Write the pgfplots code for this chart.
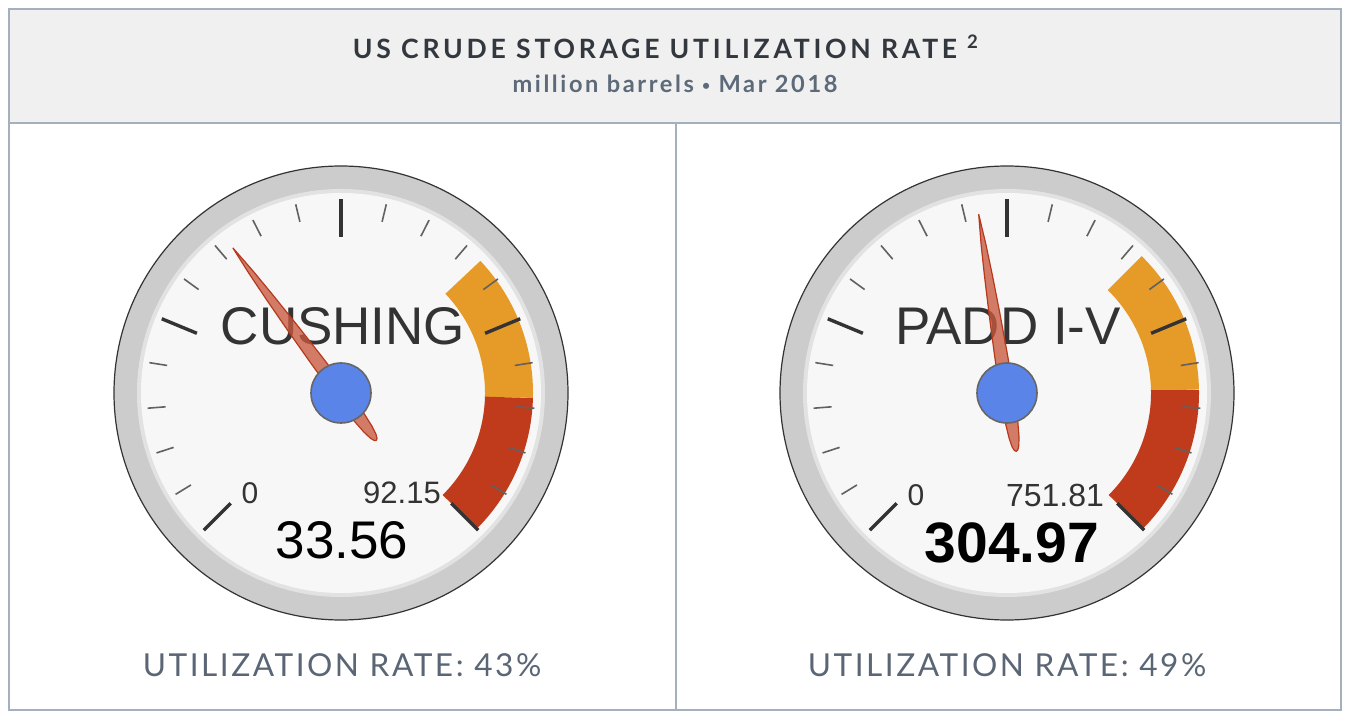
\documentclass[border=0pt]{standalone}
\usepackage{pgfplots}
\pgfplotsset{compat=1.18}
\usepackage{pgfplotstable}
\usepackage{fontspec}
\setmainfont{Liberation Sans}
\newfontfamily\latoT[LetterSpace=14]{Lato}
\newfontfamily\latoS[LetterSpace=11]{Lato}
\newfontfamily\latoB[LetterSpace=8]{Lato}

\definecolor{framec}{HTML}{A4B0BD}
\definecolor{headerc}{HTML}{F0F0F0}
\definecolor{titlec}{HTML}{33383E}
\definecolor{subc}{HTML}{5D6A79}
\definecolor{botc}{HTML}{5A6675}
\definecolor{ringc}{HTML}{CCCCCC}
\definecolor{facec}{HTML}{F7F7F7}
\definecolor{hlc}{HTML}{E2E2E2}
\definecolor{bandY}{HTML}{E69A27}
\definecolor{bandR}{HTML}{BF3B1C}
\definecolor{needleF}{HTML}{C85A40}
\definecolor{needleD}{HTML}{B8381C}
\definecolor{hubc}{HTML}{5B84E8}

% needle outline in its own frame (u along the needle, w across), pixels
\pgfplotstableread{
u w
181 0
150 2.4
120 3.9
80 5.4
40 6.4
10 6.8
-10 6.8
-30 6.2
-45 5
-54 3.4
-58 1.7
-59 0
-58 -1.7
-54 -3.4
-45 -5
-30 -6.2
-10 -6.8
10 -6.8
40 -6.4
80 -5.4
120 -3.9
150 -2.4
181 0
}\needle

\begin{document}
\begin{tikzpicture}[x=0.5pt,y=0.5pt]
% background and frame
\fill[white] (0,0) rectangle (1350,718);
\fill[headerc] (9,595) rectangle (1341,709);
\draw[framec, line width=1pt] (9,8) rectangle (1341,709);
\draw[framec, line width=1pt] (9,595) -- (1341,595);
\draw[framec, line width=0.75pt] (676,595) -- (676,8);
\node[text=titlec, font=\latoT\bfseries\fontsize{13.3}{15}\selectfont] at (666,671) {US CRUDE STORAGE UTILIZATION RATE \textsuperscript{2}};
\node[text=subc, font=\latoS\bfseries\fontsize{11.8}{13}\selectfont] at (675,634) {million barrels {\fontsize{7}{8}\selectfont\raisebox{0.25ex}{•}} Mar 2018};
% gauge bodies
\foreach \cx in {341,1007} {
  \fill[ringc] (\cx,325) circle[radius=227];
  \draw[black!80, line width=0.6pt] (\cx,325) circle[radius=227];
  \fill[hlc] (\cx,325) circle[radius=204];
  \fill[facec] (\cx,325) circle[radius=200];
}
% colour bands (angles in degrees)
\begin{axis}[x=0.5pt, y=0.5pt, xmin=0, xmax=1350, ymin=0, ymax=718,
  enlargelimits=false, hide axis, clip=false, scale only axis]
\addplot[draw=bandY, line width=24pt, domain=-1.5:43.5, samples=60, no marks] ({341+168*cos(x)},{325+168*sin(x)});
\addplot[draw=bandR, line width=24pt, domain=-45:-1.5, samples=60, no marks] ({341+168*cos(x)},{325+168*sin(x)});
\addplot[draw=bandY, line width=24pt, domain=1:45.5, samples=60, no marks] ({1007+168*cos(x)},{325+168*sin(x)});
\addplot[draw=bandR, line width=24pt, domain=-45:1, samples=60, no marks] ({1007+168*cos(x)},{325+168*sin(x)});
\end{axis}
% ticks
\foreach \cx in {341,1007} {
  \begin{scope}[shift={(\cx,325)}]
  \foreach \a in {211.5,198,184.5,171,144,130.5,117,103.5,76.5,63,49.5,36,9,-4.5,-18,-31.5}
    \draw[black!62, line width=0.8pt] (\a:176) -- (\a:194);
  \foreach \a in {225,157.5,90,22.5,-45}
    \draw[black!80, line width=1.7pt] (\a:156) -- (\a:194);
  \end{scope}
}
% gauge labels
\node[text=black!80, font=\fontsize{26.5}{28}\selectfont] at (343,392) {CUSHING};
\node[text=black!80, font=\fontsize{15}{16}\selectfont] at (250,225) {0};
\node[text=black!80, font=\fontsize{15.5}{17}\selectfont] at (402,225) {92.15};
\node[text=black, font=\fontsize{26.5}{28}\selectfont] at (342,178) {33.56};
\node[text=black!80, font=\fontsize{26.5}{28}\selectfont] at (1008,392) {PADD I-V};
\node[text=black!80, font=\fontsize{15}{16}\selectfont] at (916,223) {0};
\node[text=black!80, font=\fontsize{16}{17}\selectfont] at (1055,223) {751.81};
\node[text=black, font=\bfseries\fontsize{28.5}{30}\selectfont] at (1012,175) {304.97};
% needles
\begin{axis}[x=0.5pt, y=0.5pt, xmin=0, xmax=1350, ymin=0, ymax=718,
  enlargelimits=false, hide axis, clip=false, scale only axis]
\addplot[fill=needleF, fill opacity=0.78, draw=needleD, line width=0.6pt, no marks]
  table[x expr={341+\thisrow{u}*cos(126.7)-\thisrow{w}*sin(126.7)},
        y expr={325+\thisrow{u}*sin(126.7)+\thisrow{w}*cos(126.7)}] {\needle};
\addplot[fill=needleF, fill opacity=0.78, draw=needleD, line width=0.6pt, no marks]
  table[x expr={1007+\thisrow{u}*cos(99)-\thisrow{w}*sin(99)},
        y expr={325+\thisrow{u}*sin(99)+\thisrow{w}*cos(99)}] {\needle};
\end{axis}
% hubs
\foreach \cx in {341,1007}
  \filldraw[fill=hubc, draw=black!60, line width=0.8pt] (\cx,325) circle[radius=30];
% bottom captions
\node[text=botc, font=\latoB\fontsize{15.8}{18}\selectfont] at (342,53) {UTILIZATION RATE: 43\%};
\node[text=botc, font=\latoB\fontsize{15.8}{18}\selectfont] at (1007,53) {UTILIZATION RATE: 49\%};
\end{tikzpicture}
\end{document}
